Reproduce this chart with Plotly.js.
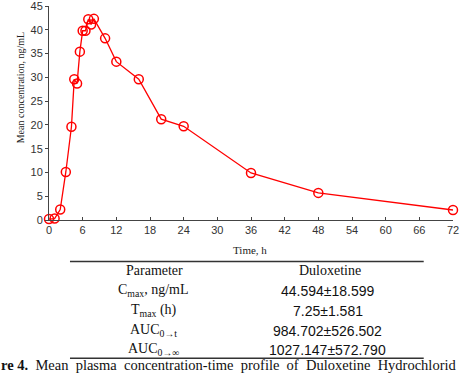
<!DOCTYPE html>
<html><head><meta charset="utf-8">
<script src="https://cdn.plot.ly/plotly-3.0.1.min.js"></script>
<style>html,body{margin:0;padding:0;background:#fff}#c{width:474px;height:375px}</style>
</head><body><div id="c"></div>
<script>
const timeH = [0, 1, 2, 3, 4, 4.5, 5, 5.5, 6, 6.5, 7, 7.5, 8, 10, 12, 16, 20, 24, 36, 48, 72];
const concNgMl = [0.2, 0.3, 2.2, 10.1, 19.6, 29.6, 28.7, 35.4, 39.8, 39.8, 42.2, 41.1, 42.3, 38.2, 33.3, 29.6, 21.2, 19.7, 9.9, 5.7, 2.1];
const xTicks = [0, 6, 12, 18, 24, 30, 36, 42, 48, 54, 60, 66, 72];
const yTicks = [0, 5, 10, 15, 20, 25, 30, 35, 40, 45];
const tableParams = ["C<sub>max</sub>, ng/mL", "T<sub>max</sub> (h)", "AUC<sub>0→t</sub>", "AUC<sub>0→∞</sub>"];
const tableValues = ["44.594±18.599", "7.25±1.581", "984.702±526.502", "1027.147±572.790"];
const tableHeader = ["Parameter", "Duloxetine"];
const caption = "<b>re 4.</b>  Mean  plasma  concentration-time  profile  of  Duloxetine  Hydrochlorid";

const L = 49, R = 453.3, T = 5.6, B = 220;
const px = x => (x - L) / (R - L);
const py = y => (B - y) / (B - T);
const serif = "Liberation Serif, Times New Roman, serif";
const sans = "Liberation Sans, Arial, sans-serif";

const ann = [];
ann.push({text: "Time, h", x: px(250), y: py(250), xref: "paper", yref: "paper", showarrow: false, xanchor: "center", yanchor: "middle", font: {family: serif, size: 11, color: "#222"}});
ann.push({text: "Mean concentration, ng/mL", x: px(20), y: py(88), xref: "paper", yref: "paper", showarrow: false, textangle: -90, xanchor: "center", yanchor: "middle", font: {family: serif, size: 10, color: "#222"}});
const rowY = [291, 311, 331, 350];
ann.push({text: tableHeader[0], x: px(155), y: py(271), xref: "paper", yref: "paper", showarrow: false, xanchor: "center", yanchor: "middle", font: {family: serif, size: 14, color: "#111"}});
ann.push({text: tableHeader[1], x: px(330), y: py(271), xref: "paper", yref: "paper", showarrow: false, xanchor: "center", yanchor: "middle", font: {family: serif, size: 14, color: "#111"}});
tableParams.forEach((p, i) => {
  ann.push({text: p, x: px(154), y: py(rowY[i]), xref: "paper", yref: "paper", showarrow: false, xanchor: "center", yanchor: "middle", font: {family: serif, size: 14, color: "#111"}});
  ann.push({text: tableValues[i], x: px(328), y: py(rowY[i]), xref: "paper", yref: "paper", showarrow: false, xanchor: "center", yanchor: "middle", font: {family: sans, size: 14, color: "#111"}});
});
ann.push({text: caption, x: px(-1), y: py(375), xref: "paper", yref: "paper", showarrow: false, xanchor: "left", yanchor: "bottom", font: {family: serif, size: 14.5, color: "#111"}});

const shapes = [
  {type: "line", xref: "paper", yref: "paper", x0: px(70), x1: px(424), y0: py(261.5), y1: py(261.5), line: {color: "#333", width: 1.5}},
  {type: "line", xref: "paper", yref: "paper", x0: px(70), x1: px(424), y0: py(358.5), y1: py(358.5), line: {color: "#333", width: 1.5}}
];

const trace = {
  x: timeH, y: concNgMl, type: "scatter", mode: "lines+markers",
  line: {color: "#ff0000", width: 1.3},
  marker: {symbol: "circle-open", size: 9, color: "#ff0000", line: {width: 1.5, color: "#ff0000"}},
  cliponaxis: false
};

const layout = {
  width: 474, height: 375,
  margin: {l: L, r: 474 - R, t: T, b: 375 - B},
  paper_bgcolor: "#fff", plot_bgcolor: "#fff",
  showlegend: false,
  xaxis: {range: [0, 72], tickvals: xTicks, ticktext: xTicks.map(String), ticks: "inside", ticklen: 3, tickcolor: "#444",
    showline: true, linecolor: "#444", linewidth: 1, showgrid: false, zeroline: false, ticklabeloverflow: "allow",
    tickfont: {family: sans, size: 11, color: "#333"}},
  yaxis: {range: [0, 45], tickvals: yTicks, ticktext: yTicks.map(String), ticks: "outside", ticklen: 3, tickcolor: "#444",
    showline: true, linecolor: "#444", linewidth: 1, showgrid: false, zeroline: false, ticklabeloverflow: "allow",
    tickfont: {family: sans, size: 11, color: "#333"}},
  annotations: ann, shapes: shapes
};
Plotly.newPlot("c", [trace], layout, {staticPlot: true, displayModeBar: false});
</script></body></html>
